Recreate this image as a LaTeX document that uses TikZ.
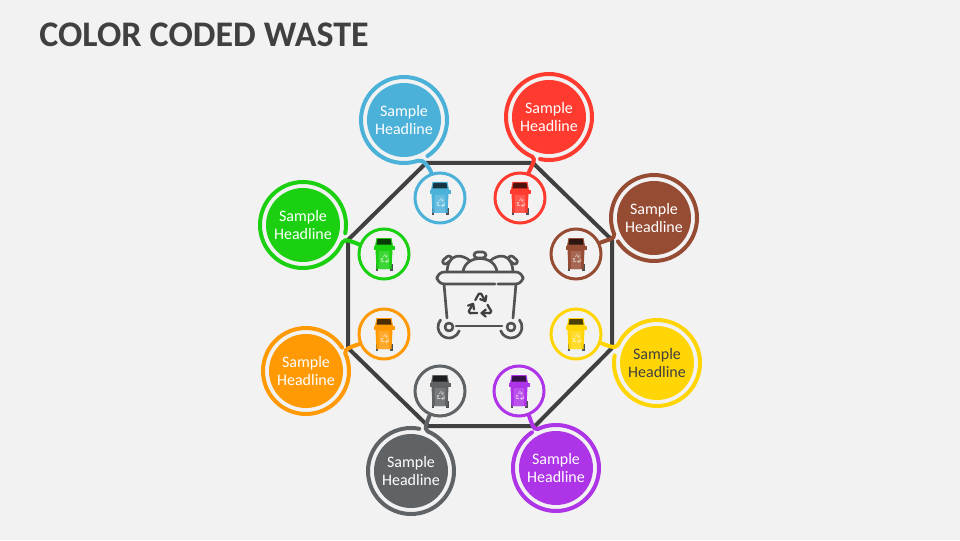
\documentclass[tikz,border=0pt]{standalone}
\usepackage{fontspec}
\setmainfont{Carlito}
\usepackage{xcolor}
\usepackage{tikz}
\usetikzlibrary{calc,positioning}

\definecolor{backcol}{HTML}{F2F2F2}
\definecolor{linecol}{HTML}{404040}
\definecolor{colblue}{HTML}{4BB1D9}
\definecolor{colred}{HTML}{FF3B30}
\definecolor{colbrown}{HTML}{964B33}
\definecolor{colyellow}{HTML}{FFD506}
\definecolor{colpurple}{HTML}{AE34E8}
\definecolor{colgrey}{HTML}{5F6366}
\definecolor{colorange}{HTML}{FF9A05}
\definecolor{colgreen}{HTML}{1BD011}

\tikzset{
  headdisc/.style={circle, fill=#1, text=white, minimum size=55.5pt, inner sep=0pt, align=center, font=\fontsize{12}{14.2}\selectfont},
  binring/.style={circle, draw=#1, line width=2.25pt, minimum size=37.5pt, inner sep=0pt},
  iconline/.style={color=linecol!90!white, line width=2pt, line cap=round, line join=round},
  recycle/.pic={
    \foreach \a in {0,120,240} {
      \draw[rotate=\a, line cap=round, line join=round, rounded corners=.1pt, pic actions] (-.34,.42) -- (-.08,.88) -- (.08,.88) -- (.38,.35);
      \draw[rotate=\a, line cap=round, line join=round, pic actions] (.45,.73) -- (.38,.35) -- (.01,.49);
    }
  },
  wastebin/.pic={
    \fill[color=colgrey!80!black] (-8.5,-17) rectangle (-6,-10);
    \fill[color=colgrey!80!black] (6,-17) rectangle (8.5,-10);
    \fill[color=#1] (-8.5,4) -- (-7.5,-15) -- (7.5,-15) -- (8.5,4) -- cycle;
    \fill[color=#1!85!white] (-5.5,3) -- (-5,-15) -- (5,-15) -- (5.5,3) -- cycle;
    \fill[color=#1] (-7.5,16) -- (7.5,16) -- (9,8) -- (-9,8) -- cycle;
    \fill[color=#1!30!black] (-6.5,15) -- (6.5,15) -- (7.5,9.5) -- (-7.5,9.5) -- cycle;
    \fill[color=#1] (-10.5,8) rectangle (10.5,4);
    \pic[draw=white!65!#1, line width=.45pt, scale=5] at (1,-5) {recycle};
  }
}

\newcommand{\ringtail}[6]{
  \pgfmathsetmacro{\tailout}{#5+90}
  \draw[color=#3, line width=3pt, line cap=round] (#1.center) ++(#4:43) arc[start angle=#4, end angle=#5, radius=43] to[out=\tailout, in=#6, looseness=.8] (#2.#6);
}

\begin{document}
\begin{tikzpicture}[x=0.75pt, y=0.75pt]

  \useasboundingbox (0,0) rectangle (960,540);
  \fill[backcol] (0,0) rectangle (960,540);

  \node[anchor=base west, inner sep=0pt, text=linecol, font=\fontsize{27}{32}\selectfont\bfseries] (title) at (39,493) {COLOR CODED WASTE};

  \coordinate (v1) at (426,377);
  \coordinate (v2) at (533,377);
  \coordinate (v3) at (612,300);
  \coordinate (v4) at (612,192);
  \coordinate (v5) at (535,114);
  \coordinate (v6) at (428,114);
  \coordinate (v7) at (348,192);
  \coordinate (v8) at (348,300);
  \draw[color=linecol, line width=3pt, line join=round] (v1) -- (v2) -- (v3) -- (v4) -- (v5) -- (v6) -- (v7) -- (v8) -- cycle;

  \node[headdisc=colblue] (headblue) at (404,420) {Sample\\Headline};
  \node[binring=colblue] (binblue) at (440,342) {};
  \pic at (binblue) {wastebin=colblue};
  \ringtail{headblue}{binblue}{colblue}{-57}{289}{109}

  \node[headdisc=colred] (headred) at (549,423) {Sample\\Headline};
  \node[binring=colred] (binred) at (520,342) {};
  \pic at (binred) {wastebin=colred};
  \ringtail{headred}{binred}{colred}{-102}{247}{71}

  \node[headdisc=colbrown] (headbrown) at (654,322) {Sample\\Headline};
  \node[binring=colbrown] (binbrown) at (576,286) {};
  \pic at (binbrown) {wastebin=colbrown};
  \ringtail{headbrown}{binbrown}{colbrown}{213}{562}{25}

  \node[headdisc=colyellow, text=linecol] (headyellow) at (657,177) {Sample\\Headline};
  \node[binring=colyellow] (binyellow) at (576,206) {};
  \pic at (binyellow) {wastebin=colyellow};
  \ringtail{headyellow}{binyellow}{colyellow}{170}{515}{-20}

  \node[headdisc=colpurple] (headpurple) at (556,72) {Sample\\Headline};
  \node[binring=colpurple] (binpurple) at (519,149) {};
  \pic at (binpurple) {wastebin=colpurple};
  \ringtail{headpurple}{binpurple}{colpurple}{124}{475}{-68}

  \node[headdisc=colgrey] (headgrey) at (411,69) {Sample\\Headline};
  \node[binring=colgrey] (bingrey) at (440,149) {};
  \pic at (bingrey) {wastebin=colgrey};
  \ringtail{headgrey}{bingrey}{colgrey}{79}{427}{247}

  \node[headdisc=colorange] (headorange) at (306,169) {Sample\\Headline};
  \node[binring=colorange] (binorange) at (384,206) {};
  \pic at (binorange) {wastebin=colorange};
  \ringtail{headorange}{binorange}{colorange}{33}{384}{202}

  \node[headdisc=colgreen] (headgreen) at (303,315) {Sample\\Headline};
  \node[binring=colgreen] (bingreen) at (384,286) {};
  \pic at (bingreen) {wastebin=colgreen};
  \ringtail{headgreen}{bingreen}{colgreen}{-11}{336}{159}

  \draw[iconline, rounded corners=5.5] (495,256) -- (437,256) -- (437,268) -- (523,268) -- (523,256) -- (498,256);
  \draw[iconline] (444,256) -- (447,222);
  \draw[iconline] (516,256) -- (513,222);
  \draw[iconline] (456,214) -- (502,214);
  \draw[iconline] (449,213) circle (4);
  \draw[iconline] (511,213) circle (4);
  \draw[iconline] (449,213) ++(140:11) arc[start angle=140, end angle=340, radius=11];
  \draw[iconline] (511,213) ++(200:11) arc[start angle=200, end angle=400, radius=11];
  \draw[iconline] (463,268) .. controls (465,286) and (495,286) .. (497,268);
  \draw[iconline] (447,268) .. controls (448,288) and (463,286) .. (470,279);
  \draw[iconline] (513,268) .. controls (512,288) and (497,286) .. (490,279);
  \fill[backcol, rounded corners=2.5] (474,282) rectangle (486,288);
  \draw[iconline, rounded corners=2.5] (474,282) rectangle (486,288);
  \filldraw[iconline, fill=backcol, rounded corners=2, rotate around={40:(447,280)}] (442,277.5) rectangle (452,282.5);
  \filldraw[iconline, fill=backcol, rounded corners=2, rotate around={-40:(513,280)}] (508,277.5) rectangle (518,282.5);
  \pic[draw=linecol, line width=1.7pt, scale=14] at (480,234) {recycle};

\end{tikzpicture}
\end{document}
